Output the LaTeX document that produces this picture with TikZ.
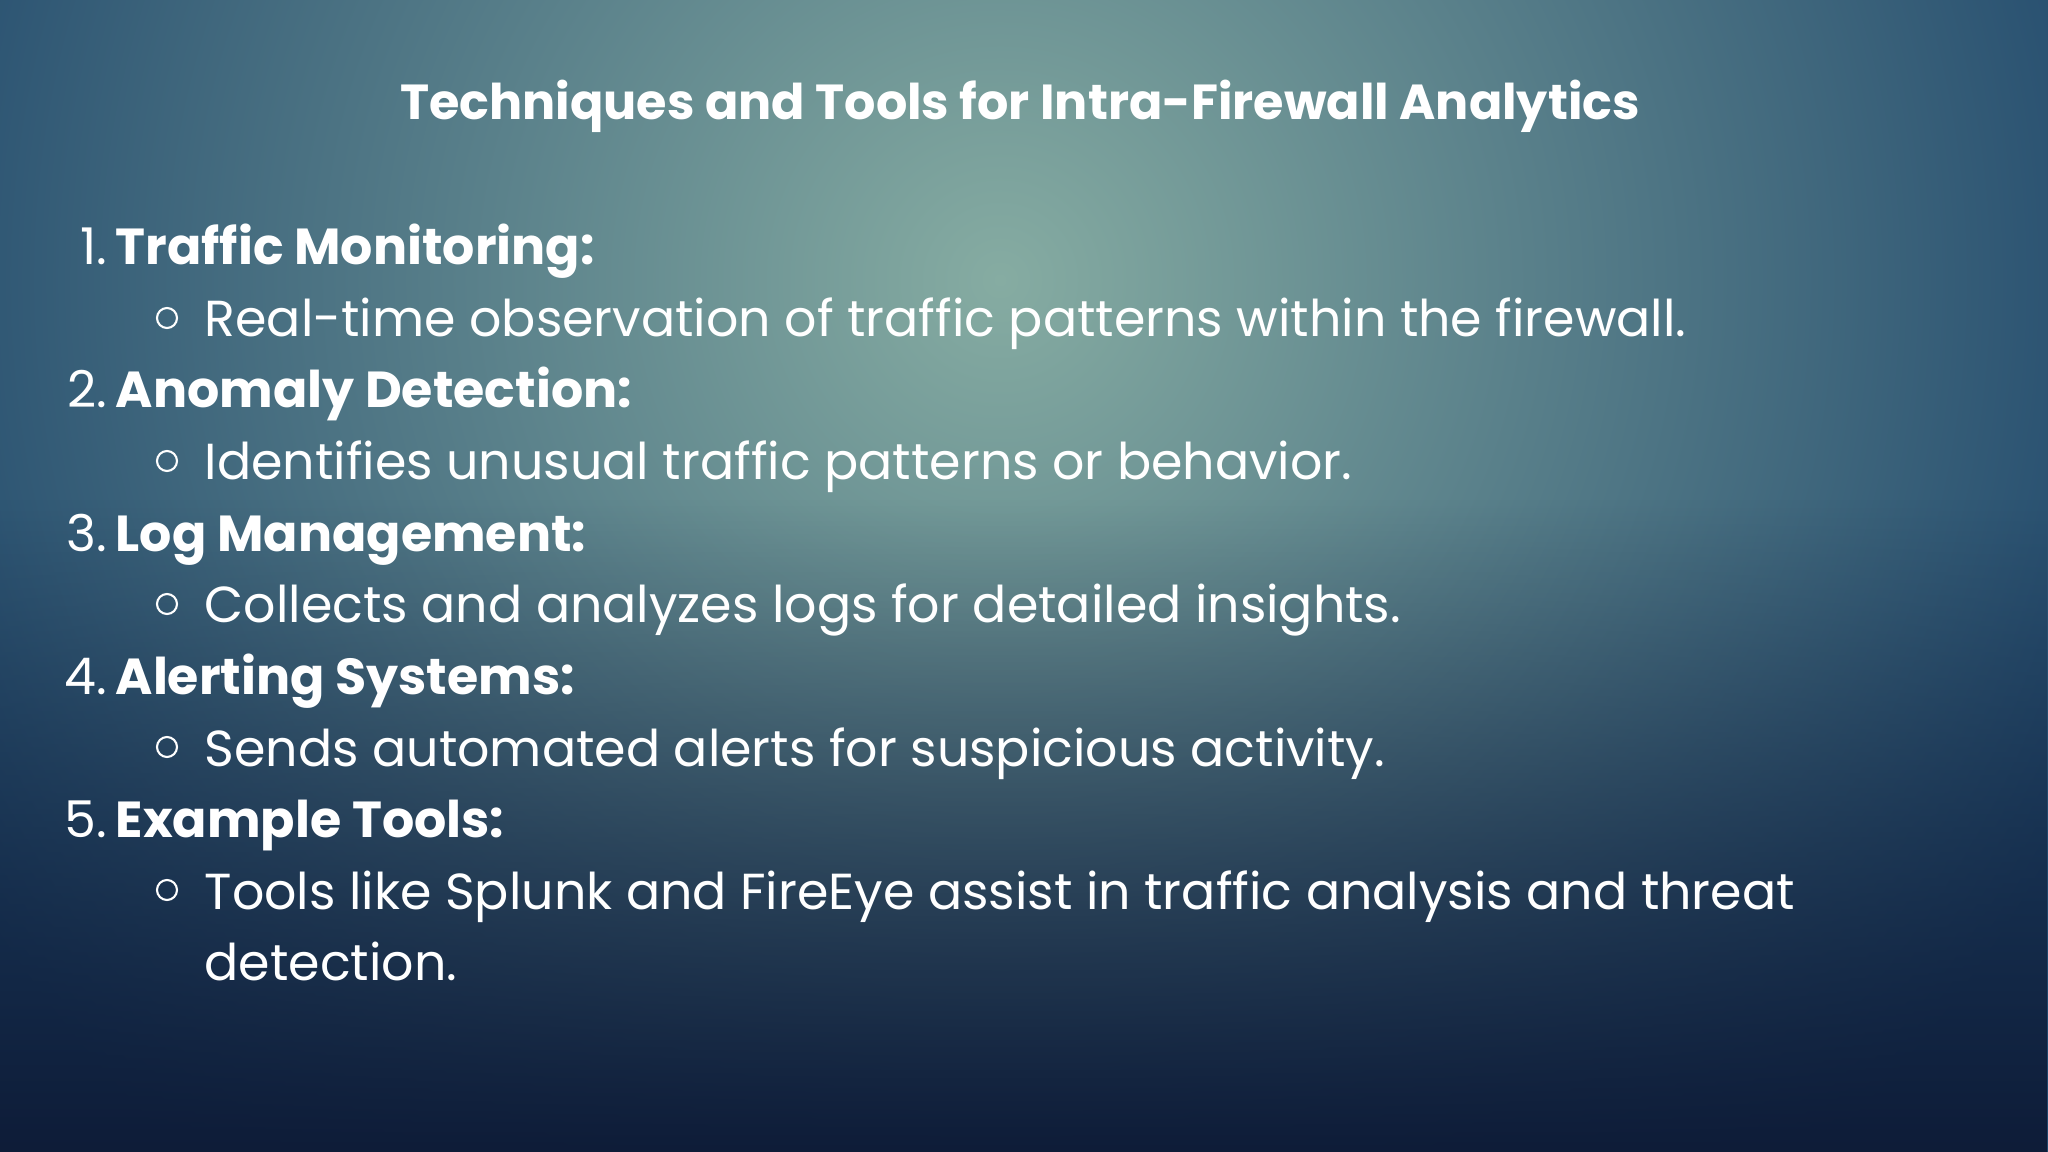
\documentclass[tikz,border=0pt]{standalone}
\usepackage{fontspec}
\setmainfont{Poppins}
\usetikzlibrary{fadings}
\begin{document}
\begin{tikzpicture}[x=0.01cm,y=-0.01cm,
  num/.style={anchor=base east,font=\fontsize{14.4}{18}\selectfont,text=white,inner sep=0pt},
  head/.style={anchor=base west,font=\fontsize{14.4}{18}\selectfont\bfseries,text=white,inner sep=0pt},
  bul/.style={circle,draw=white,line width=0.6pt,minimum size=0.2cm,inner sep=0pt},
  sub/.style={anchor=base west,font=\fontsize{14.4}{18}\selectfont,text=white,inner sep=0pt,align=left}]
\definecolor{navy}{RGB}{14,28,56}
\definecolor{mid}{RGB}{32,72,108}
\definecolor{glow}{RGB}{134,172,162}
\useasboundingbox (0,0) rectangle (2048,1152);
\fill[mid] (0,0) rectangle (2048,1152);
\begin{scope}
\clip (0,0) rectangle (2048,1152);
\shade[inner color=glow, outer color=mid] (1000,280) circle (1200);
\fill[navy, path fading=north] (0,500) rectangle (2048,1152);
\end{scope}
\node[font=\fontsize{14}{17}\selectfont\bfseries,text=white] (title) at (1020,106) {Techniques and Tools for Intra-Firewall Analytics};
\node[num] (n1) at (108,265) {1.}; \node[head] (h1) at (115,265) {Traffic Monitoring:};
\node[bul] (b1) at (167,318) {}; \node[sub] (s1) at (204,337) {Real-time observation of traffic patterns within the firewall.};
\node[num] (n2) at (108,408) {2.}; \node[head] (h2) at (115,408) {Anomaly Detection:};
\node[bul] (b2) at (167,461) {}; \node[sub] (s2) at (204,480) {Identifies unusual traffic patterns or behavior.};
\node[num] (n3) at (108,551) {3.}; \node[head] (h3) at (115,551) {Log Management:};
\node[bul] (b3) at (167,604) {}; \node[sub] (s3) at (204,623) {Collects and analyzes logs for detailed insights.};
\node[num] (n4) at (108,694) {4.}; \node[head] (h4) at (115,694) {Alerting Systems:};
\node[bul] (b4) at (167,747) {}; \node[sub] (s4) at (204,766) {Sends automated alerts for suspicious activity.};
\node[num] (n5) at (108,837) {5.}; \node[head] (h5) at (115,837) {Example Tools:};
\node[bul] (b5) at (167,890) {}; \node[sub] (s5) at (204,909) {Tools like Splunk and FireEye assist in traffic analysis and threat};
\node[sub] (s6) at (204,980) {detection.};
\end{tikzpicture}
\end{document}
